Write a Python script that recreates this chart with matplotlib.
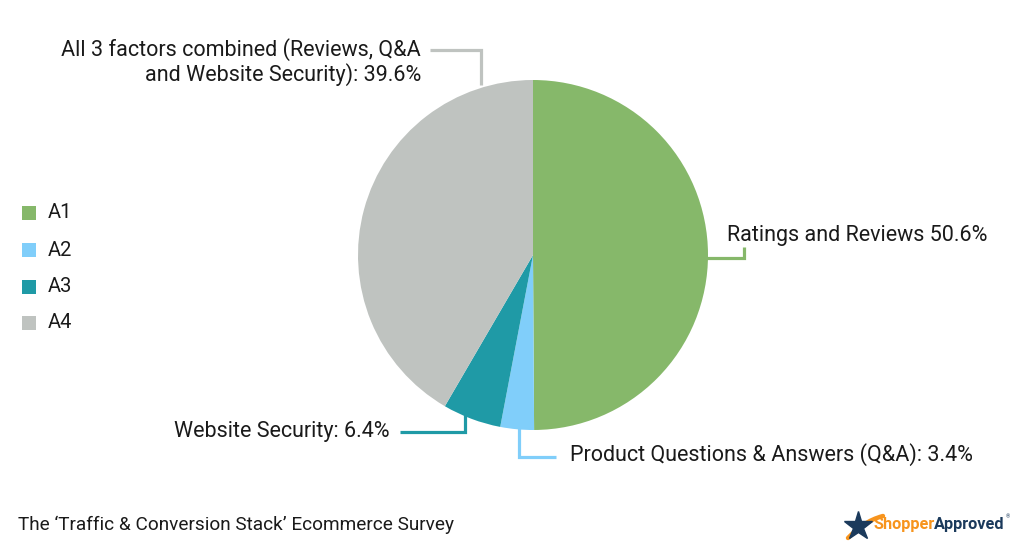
import matplotlib
matplotlib.use("Agg")
import matplotlib.pyplot as plt
from matplotlib.path import Path
from matplotlib.patches import PathPatch

plt.rcParams['font.family'] = ['Roboto', 'DejaVu Sans']

categories = ["A1", "A2", "A3", "A4"]
label_pct = [50.6, 3.4, 6.4, 39.6]          # percentages printed in labels
slice_values = [49.9, 3.1, 5.4, 41.6]       # wedge sizes as drawn in the picture
label_names = ["Ratings and Reviews {}%",
               "Product Questions & Answers (Q&A): {}%",
               "Website Security: {}%",
               "All 3 factors combined (Reviews, Q&A\nand Website Security): {}%"]
colors = ["#86b86a", "#80cefa", "#1f9aa6", "#bfc3c0"]
title = "The \u2018Traffic & Conversion Stack\u2019 Ecommerce Survey"

labels = [n.format(p) for n, p in zip(label_names, label_pct)]

W, H = 1024, 553
fig = plt.figure(figsize=(W / 100, H / 100), dpi=100)
ax = fig.add_axes([0, 0, 1, 1])

def Y(y):
    return H - y

cx, cy, r = 533, 255, 175
ax.pie(slice_values, colors=colors, startangle=90, counterclock=False,
       center=(cx, Y(cy)), radius=r, frame=True,
       wedgeprops=dict(linewidth=0))
ax.set_xlim(0, W)
ax.set_ylim(0, H)
ax.axis('off')

txt_color = "#1a1a1a"
fs = 15.5
lw = 2.3

# leader lines (image pixel coords)
paths = [
    [(706, 258), (744, 258), (744, 247)],
    [(519, 427), (519, 457), (556, 457)],
    [(465, 415), (465, 432), (400, 432)],
    [(481, 85), (481, 50), (430, 50)],
]
for p, c in zip(paths, colors):
    ax.plot([q[0] for q in p], [Y(q[1]) for q in p], color=c, lw=lw,
            solid_joinstyle='miter', solid_capstyle='butt')

ax.text(727, Y(236), labels[0], fontsize=fs, color=txt_color, ha='left', va='center')
ax.text(570, Y(455), labels[1], fontsize=fs, color=txt_color, ha='left', va='center')
ax.text(390, Y(432), labels[2], fontsize=fs, color=txt_color, ha='right', va='center')
ax.text(421, Y(62), labels[3], fontsize=fs, color=txt_color, ha='right', va='center',
        multialignment='right', linespacing=1.15)

# legend
ys = [213, 250, 287, 323]
for cat, c, yy in zip(categories, colors, ys):
    ax.add_patch(plt.Rectangle((22, Y(yy) - 7), 14, 14, color=c, lw=0))
    ax.text(48, Y(yy), cat, fontsize=14.5, color=txt_color, ha='left', va='center')

ax.text(18, Y(525), title, fontsize=13.7, color=txt_color, ha='left', va='center')

# logo
ax.plot([858], [Y(526)], marker='*', markersize=21, color='#1b3a5c', lw=0)
swoosh = Path([(848, Y(538)), (858, Y(528)), (868, Y(520)), (883, Y(516))],
              [Path.MOVETO, Path.CURVE4, Path.CURVE4, Path.CURVE4])
ax.add_patch(PathPatch(swoosh, fill=False, edgecolor='#f7941d', lw=3.2, capstyle='round'))
fig.canvas.draw()
rend = fig.canvas.get_renderer()
t1 = ax.text(873, Y(524), "Shopper", fontsize=11.7, fontweight='bold', color='#f7941d',
             ha='left', va='center')
bb = t1.get_window_extent(renderer=rend)
x2 = ax.transData.inverted().transform((bb.x1, bb.y0))[0]
t2 = ax.text(x2, Y(524), "Approved", fontsize=11.7, fontweight='bold', color='#1b3a5c',
             ha='left', va='center')
bb2 = t2.get_window_extent(renderer=rend)
x3 = ax.transData.inverted().transform((bb2.x1, bb2.y0))[0]
ax.text(x3 + 1, Y(517), "\u00ae", fontsize=4, color='#1b3a5c', ha='left', va='center')

fig.savefig("out.png", dpi=100, facecolor='white')
